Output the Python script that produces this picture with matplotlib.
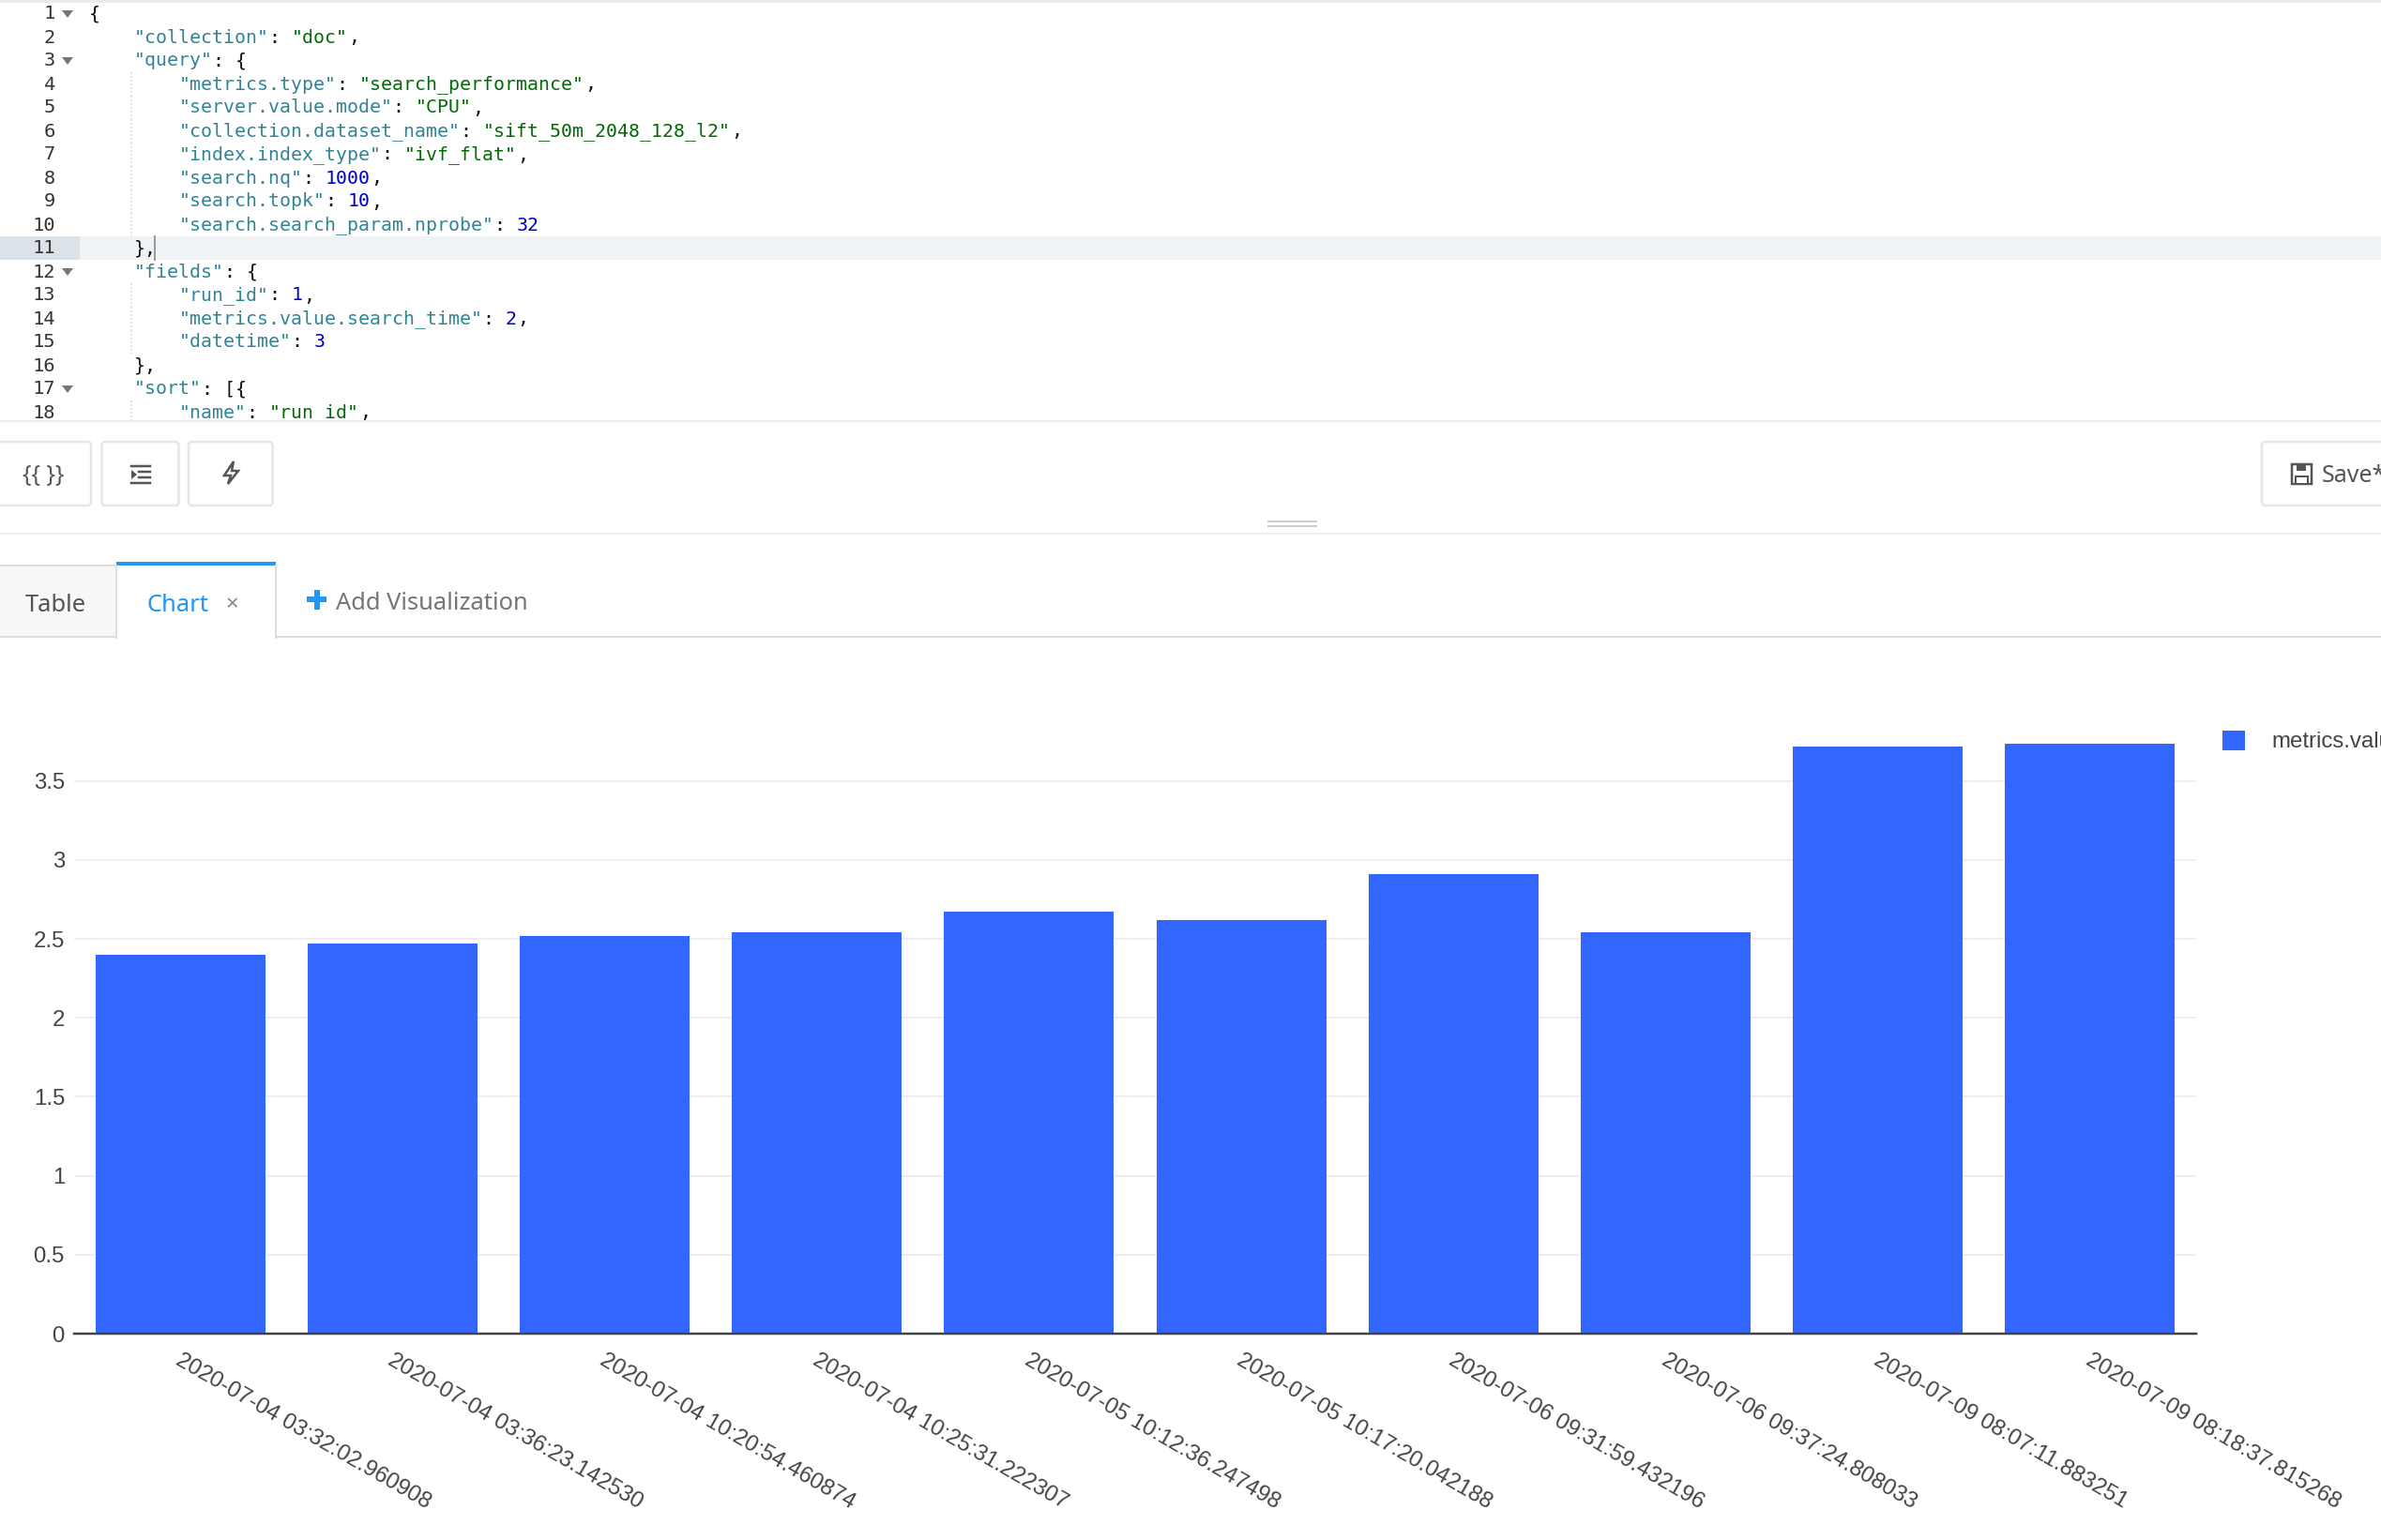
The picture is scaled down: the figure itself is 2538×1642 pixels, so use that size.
import matplotlib
matplotlib.use("Agg")
import matplotlib.pyplot as plt
from matplotlib.patches import FancyBboxPatch, Rectangle, Polygon
from matplotlib.transforms import ScaledTranslation

# chart data
run_times = ["2020-07-04 03:32:02.960908", "2020-07-04 03:36:23.142530",
             "2020-07-04 10:20:54.460874", "2020-07-04 10:25:31.222307",
             "2020-07-05 10:12:36.247498", "2020-07-05 10:17:20.042188",
             "2020-07-06 09:31:59.432196", "2020-07-06 09:37:24.808033",
             "2020-07-09 08:07:11.883251", "2020-07-09 08:18:37.815268"]
search_time = [2.40, 2.47, 2.52, 2.54, 2.67, 2.62, 2.91, 2.54, 3.72, 3.735]
y_ticks = [0, 0.5, 1, 1.5, 2, 2.5, 3, 3.5]
y_tick_labels = ["0", "0.5", "1", "1.5", "2", "2.5", "3", "3.5"]
series_name = "metrics.value.search_time"

# editor text: (depth, [(token, kind), ...])
code_lines = [
    (0, [("{", "p")]),
    (1, [('"collection"', "k"), (": ", "p"), ('"doc"', "s"), (",", "p")]),
    (1, [('"query"', "k"), (": {", "p")]),
    (2, [('"metrics.type"', "k"), (": ", "p"), ('"search_performance"', "s"), (",", "p")]),
    (2, [('"server.value.mode"', "k"), (": ", "p"), ('"CPU"', "s"), (",", "p")]),
    (2, [('"collection.dataset_name"', "k"), (": ", "p"), ('"sift_50m_2048_128_l2"', "s"), (",", "p")]),
    (2, [('"index.index_type"', "k"), (": ", "p"), ('"ivf_flat"', "s"), (",", "p")]),
    (2, [('"search.nq"', "k"), (": ", "p"), ("1000", "n"), (",", "p")]),
    (2, [('"search.topk"', "k"), (": ", "p"), ("10", "n"), (",", "p")]),
    (2, [('"search.search_param.nprobe"', "k"), (": ", "p"), ("32", "n")]),
    (1, [("},", "p")]),
    (1, [('"fields"', "k"), (": {", "p")]),
    (2, [('"run_id"', "k"), (": ", "p"), ("1", "n"), (",", "p")]),
    (2, [('"metrics.value.search_time"', "k"), (": ", "p"), ("2", "n"), (",", "p")]),
    (2, [('"datetime"', "k"), (": ", "p"), ("3", "n")]),
    (1, [("},", "p")]),
    (1, [('"sort"', "k"), (": [{", "p")]),
    (2, [('"name"', "k"), (": ", "p"), ('"run_id"', "s"), (",", "p")]),
]
token_colors = {"k": "#318495", "s": "#036a07", "n": "#0000cd", "p": "#111111"}
fold_lines = [1, 3, 12, 17]
guide_lines = [4, 5, 6, 7, 8, 9, 10, 13, 14, 15, 18]

W, H = 2538, 1642
BLUE = "#2196f3"
BAR = "#3366ff"
GREY = "#444444"
UI_FONT = ["Noto Sans", "DejaVu Sans"]
CHART_FONT = ["Liberation Sans", "DejaVu Sans"]
CHAR_W = 12.0


def px(size):
    return size * 0.72


fig = plt.figure(figsize=(W / 100, H / 100), dpi=100, facecolor="white")

# page chrome, drawn in pixel coordinates
ui = fig.add_axes([0, 0, 1, 1], zorder=0)
ui.set_xlim(0, W)
ui.set_ylim(H, 0)
ui.axis("off")

# --- editor ---
ui.add_patch(Rectangle((0, 252), W, 25, fc="#eff3f6", ec="none"))
ui.add_patch(Rectangle((0, 252), 85, 25, fc="#dce3e8", ec="none"))
ui.plot([165, 165], [252, 277], color="#999999", lw=px(2))
for i, (depth, tokens) in enumerate(code_lines):
    n = i + 1
    y = 15 + 25 * i
    ui.text(59, y, str(n), family="DejaVu Sans Mono", fontsize=px(20.4), color="#333333",
            ha="right", va="center")
    if n in fold_lines:
        ui.add_patch(Polygon([(66, y - 4), (78, y - 4), (72, y + 4)], fc="#777777", ec="none"))
    if n in guide_lines:
        ui.plot([140, 140], [y - 12.5, y + 12.5], color="#e2e2e2", lw=px(2), ls=(0, (1, 1)))
    col = 0
    for tok, kind in tokens:
        ui.text(95 + (depth * 4 + col) * CHAR_W, y, tok, family="DejaVu Sans Mono", fontsize=px(19.9),
                color=token_colors[kind], ha="left", va="center")
        col += len(tok)

# cover the cut off part of the last code line
ui.add_patch(Rectangle((0, 449), W, 40, fc="white", ec="none", zorder=3))
ui.plot([0, W], [1, 1], color="#e8ecef", lw=px(3), zorder=4)
ui.plot([0, W], [449, 449], color="#e8ecef", lw=px(2), zorder=4)

# --- toolbar ---
for x0, x1 in [(-20, 97), (108.5, 190.5), (201, 290.5), (2411, 2600)]:
    ui.add_patch(FancyBboxPatch((x0, 471), x1 - x0, 68, boxstyle="round,pad=0,rounding_size=4",
                                fc="white", ec="#e6e6e6", lw=px(2.5), zorder=5))
ui.text(46, 507, "{{ }}", family=UI_FONT, fontsize=px(25), color="#555555", ha="center", va="center", zorder=6)
# indent icon
for yy, x0 in [(497, 140), (503, 148), (509, 148), (515, 140)]:
    ui.plot([x0, 160], [yy, yy], color="#555555", lw=px(2.5), zorder=6)
ui.add_patch(Polygon([(140, 501), (146, 506), (140, 511)], fc="#555555", ec="none", zorder=6))
# bolt icon
ui.add_patch(Polygon([(249, 492), (239, 507), (246, 507), (243, 516), (254, 502), (247, 502)],
                     fc="white", ec="#555555", lw=px(2.5), zorder=6))
# save icon
ui.add_patch(Rectangle((2443, 495), 21, 21, fc="white", ec="#555555", lw=px(2.5), zorder=6))
ui.add_patch(Rectangle((2448, 495), 10, 7, fc="#555555", ec="none", zorder=6))
ui.add_patch(Rectangle((2447, 508), 13, 8, fc="white", ec="#555555", lw=px(2), zorder=6))
ui.text(2475, 508, "Save*", family=UI_FONT, fontsize=px(25), color="#555555", ha="left", va="center", zorder=6)

ui.plot([0, W], [569, 569], color="#eeeeee", lw=px(2))
ui.plot([1352, 1403], [556, 556], color="#cccccc", lw=px(2))
ui.plot([1352, 1403], [561, 561], color="#cccccc", lw=px(2))

# --- tabs ---
ui.add_patch(Rectangle((-5, 603), 129, 76, fc="#f7f8fa", ec="#dddddd", lw=px(2)))
ui.plot([294, W], [679, 679], color="#dddddd", lw=px(2))
ui.plot([124, 124], [603, 680], color="#dddddd", lw=px(2))
ui.plot([294, 294], [603, 680], color="#dddddd", lw=px(2))
ui.add_patch(Rectangle((124, 599.5), 170, 4, fc=BLUE, ec="none"))
ui.text(27, 645, "Table", family=UI_FONT, fontsize=px(25.5), color="#555555", ha="left", va="center")
ui.text(157, 645, "Chart", family=UI_FONT, fontsize=px(25.5), color=BLUE, ha="left", va="center")
ui.text(247, 645, "×", family=UI_FONT, fontsize=px(24), color="#888888", ha="center", va="center")
ui.add_patch(Rectangle((327, 636.5), 21, 6, fc=BLUE, ec="none"))
ui.add_patch(Rectangle((334.5, 629), 6, 21, fc=BLUE, ec="none"))
ui.text(358, 643, "Add Visualization", family=UI_FONT, fontsize=px(25.5), color="#767676", ha="left", va="center")

# --- chart ---
ax_left, ax_right, ax_base = 79, 2341, 1422
ax_top = ax_base - 4 * 168.4
ax = fig.add_axes([ax_left / W, 1 - ax_base / H, (ax_right - ax_left) / W, (ax_base - ax_top) / H],
                  zorder=2)
ax.patch.set_alpha(0)
positions = list(range(len(run_times)))
ax.bar(positions, search_time, width=0.8, color=BAR, label=series_name, zorder=3)
ax.set_xlim(-0.5, len(run_times) - 0.5)
ax.set_ylim(0, 4)
ax.set_yticks(y_ticks)
ax.set_yticklabels(y_tick_labels, family=CHART_FONT, fontsize=px(24), color=GREY)
ax.set_xticks(positions)
ax.set_xticklabels(run_times, family=CHART_FONT, fontsize=px(24), color=GREY, rotation=-30,
                   rotation_mode="anchor", ha="left", va="center")
ax.tick_params(axis="both", length=0)
ax.tick_params(axis="y", pad=px(10))
ax.tick_params(axis="x", pad=px(27))
# labels sit a little left of the bar centres in the original
shift = ScaledTranslation(-3 / 100, 0, fig.dpi_scale_trans)
for label in ax.get_xticklabels():
    label.set_transform(label.get_transform() + shift)
ax.grid(axis="y", color="#eeeeee", lw=px(2))
ax.set_axisbelow(True)
for side in ["top", "left", "right"]:
    ax.spines[side].set_visible(False)
ax.spines["bottom"].set_color(GREY)
ax.spines["bottom"].set_linewidth(px(2.5))
ax.spines["bottom"].set_zorder(4)

fig.legend(loc="center left", bbox_to_anchor=(2369 / W, 1 - 790.5 / H), frameon=False,
           prop={"family": CHART_FONT, "size": px(24)}, labelcolor=GREY, handlelength=1,
           handleheight=1, handletextpad=1.2, borderpad=0, borderaxespad=0)

fig.savefig("out.png", dpi=100)
